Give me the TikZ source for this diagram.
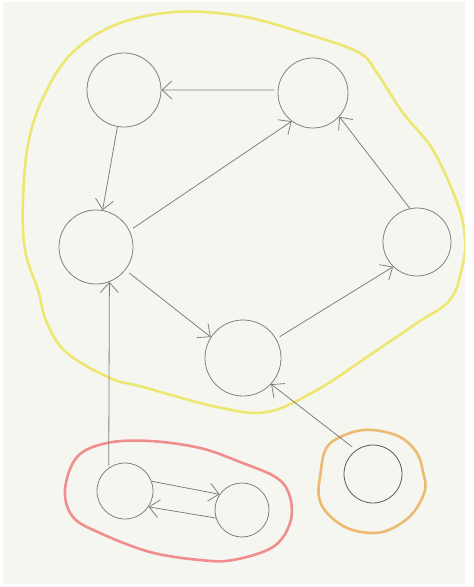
\documentclass[tikz,border=0pt]{standalone}
\usetikzlibrary{arrows.meta}
\definecolor{paper}{RGB}{246,246,241}
\definecolor{sccyellow}{RGB}{236,231,112}
\definecolor{sccred}{RGB}{240,142,142}
\definecolor{sccorange}{RGB}{236,186,112}
\definecolor{ink}{RGB}{128,128,128}
\begin{document}
\begin{tikzpicture}[x=1pt, y=-1pt, >={Straight Barb[length=10pt,width=18pt]},
        vertex/.style={circle, draw=ink, line width=0.8pt, inner sep=0pt},
        link/.style={draw=ink, line width=0.8pt, ->},
        blob/.style={line width=2.6pt, line join=round}]
            \fill [white] (0,0) rectangle (474,587);
            \fill [paper] (3,2) rectangle (465,584);
            % components
            \begin{scope}
            \clip (3,2) rectangle (465,584);
            \draw [blob, sccyellow] plot [smooth cycle, tension=0.6] coordinates {(175,12) (240,16) (300,32) (358,52) (377,73) (403,113) (433,150) (458,205) (465,240) (462,268) (450,300) (417,323) (367,357) (317,390) (267,412) (217,407) (143,387) (110,378) (67,353) (47,323) (38,290) (25,250) (23,200) (28,145) (42,100) (70,55) (115,25)};
            \end{scope}
            \draw [blob, sccred] plot [smooth cycle, tension=0.6] coordinates {(107,443) (150,441) (200,448) (240,462) (277,478) (290,497) (290,523) (273,547) (233,560) (200,560) (150,552) (100,533) (73,517) (65,490) (77,457)};
            \draw [blob, sccorange] plot [smooth cycle, tension=0.6] coordinates {(350,433) (373,430) (400,437) (417,453) (423,472) (425,490) (413,513) (393,528) (373,533) (347,528) (327,513) (319,497) (320,477) (327,447)};
            % vertices
            \node [vertex, minimum size=74pt] (1) at (124,90) {};
            \node [vertex, minimum size=70pt] (2) at (313,93) {};
            \node [vertex, minimum size=74pt] (3) at (96,247) {};
            \node [vertex, minimum size=68pt] (4) at (417,242) {};
            \node [vertex, minimum size=76pt] (5) at (243,358) {};
            \node [vertex, minimum size=56pt] (6) at (125,491) {};
            \node [vertex, minimum size=54pt] (7) at (242,510) {};
            \node [vertex, draw=black!65, minimum size=58pt] (8) at (373,474) {};
            % edges
            \path (2.175) edge [link, shorten <=3pt] (1.0);
            \path (1) edge [link] (3);
            \path (3.26) edge [link, shorten <=4pt] (2.233);
            \path (4.102) edge [link] (2.318);
            \path (3.322) edge [link, shorten <=5pt] (5.147);
            \path (5.30) edge [link, shorten <=4pt] (4.226);
            \path (6.125) edge [link, shorten <=2pt] (3.291);
            \path (8.125) edge [link, shorten <=5pt] (5.317);
            \path (6.20) edge [link] (7.145);
            \path (7.197) edge [link] (6.326);
        \end{tikzpicture}
\end{document}
